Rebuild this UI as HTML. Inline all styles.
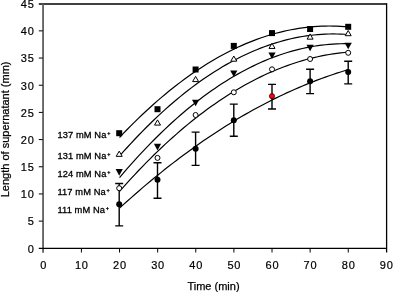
<!DOCTYPE html>
<html><head><meta charset="utf-8"><style>
html,body{margin:0;padding:0;background:#fff;width:393px;height:292px;overflow:hidden}
svg{display:block}
text{font-family:"Liberation Sans",Arial,sans-serif;fill:#000}
</style></head><body>
<svg width="393" height="292" viewBox="0 0 393 292">

<g stroke="#000" stroke-width="1" fill="none">
<path d="M38.8,3.9 H386.6" stroke-width="1.5"/>
<path d="M386.6,3.2 V252.5" stroke-width="1.3"/>
<path d="M43.05,3.2 V252.8" stroke="#555" stroke-width="1.7"/>
<path d="M38.8,248.35 H386.6" stroke-width="1.3"/>
<path d="M38.8,221.12 H42.8"/>
<path d="M38.8,193.94 H42.8"/>
<path d="M38.8,166.76 H42.8"/>
<path d="M38.8,139.58 H42.8"/>
<path d="M38.8,112.40 H42.8"/>
<path d="M38.8,85.22 H42.8"/>
<path d="M38.8,58.04 H42.8"/>
<path d="M38.8,30.86 H42.8"/>
<path d="M81.42,248.3 V252.5"/>
<path d="M119.54,248.3 V252.5"/>
<path d="M157.66,248.3 V252.5"/>
<path d="M195.78,248.3 V252.5"/>
<path d="M233.90,248.3 V252.5"/>
<path d="M272.02,248.3 V252.5"/>
<path d="M310.14,248.3 V252.5"/>
<path d="M348.26,248.3 V252.5"/>
</g>
<g font-size="11" text-anchor="end" letter-spacing="0.8" stroke="#000" stroke-width="0.2">
<text x="34.6" y="252.60">0</text>
<text x="34.6" y="225.42">5</text>
<text x="34.6" y="198.24">10</text>
<text x="34.6" y="171.06">15</text>
<text x="34.6" y="143.88">20</text>
<text x="34.6" y="116.70">25</text>
<text x="34.6" y="89.52">30</text>
<text x="34.6" y="62.34">35</text>
<text x="34.6" y="35.16">40</text>
<text x="34.6" y="7.98">45</text>
</g>
<g font-size="11" text-anchor="middle" letter-spacing="0.8" stroke="#000" stroke-width="0.2">
<text x="43.70" y="268.6">0</text>
<text x="81.82" y="268.6">10</text>
<text x="119.94" y="268.6">20</text>
<text x="158.06" y="268.6">30</text>
<text x="196.18" y="268.6">40</text>
<text x="234.30" y="268.6">50</text>
<text x="272.42" y="268.6">60</text>
<text x="310.54" y="268.6">70</text>
<text x="348.66" y="268.6">80</text>
<text x="386.78" y="268.6">90</text>
</g>
<text x="213.5" y="289.7" font-size="11" text-anchor="middle" stroke="#000" stroke-width="0.25">Time (min)</text>
<text transform="translate(8.9,129.4) rotate(-90)" font-size="11" text-anchor="middle" stroke="#000" stroke-width="0.25">Length of supernatant (mm)</text>
<g stroke="#000" stroke-width="1.2" fill="none">
<path d="M119.54,137.47 L123.35,133.46 L127.16,129.52 L130.98,125.66 L134.79,121.87 L138.60,118.15 L142.41,114.51 L146.22,110.94 L150.04,107.44 L153.85,104.02 L157.66,100.67 L161.47,97.40 L165.28,94.19 L169.10,91.06 L172.91,88.01 L176.72,85.03 L180.53,82.12 L184.34,79.28 L188.16,76.52 L191.97,73.84 L195.78,71.22 L199.59,68.68 L203.40,66.21 L207.22,63.82 L211.03,61.50 L214.84,59.25 L218.65,57.08 L222.46,54.98 L226.28,52.95 L230.09,51.00 L233.90,49.12 L237.71,47.31 L241.52,45.58 L245.34,43.92 L249.15,42.34 L252.96,40.82 L256.77,39.38 L260.58,38.02 L264.40,36.73 L268.21,35.51 L272.02,34.36 L275.83,33.29 L279.64,32.30 L283.46,31.37 L287.27,30.52 L291.08,29.74 L294.89,29.04 L298.70,28.41 L302.52,27.85 L306.33,27.37 L310.14,26.96 L313.95,26.62 L317.76,26.36 L321.58,26.17 L325.39,26.05 L329.20,26.01 L333.01,26.04 L336.82,26.14 L340.64,26.32 L344.45,26.57 L348.26,26.90"/>
<path d="M119.54,156.03 L123.35,151.72 L127.16,147.49 L130.98,143.34 L134.79,139.26 L138.60,135.26 L142.41,131.34 L146.22,127.49 L150.04,123.72 L153.85,120.03 L157.66,116.42 L161.47,112.89 L165.28,109.43 L169.10,106.05 L172.91,102.74 L176.72,99.52 L180.53,96.37 L184.34,93.30 L188.16,90.31 L191.97,87.39 L195.78,84.55 L199.59,81.79 L203.40,79.11 L207.22,76.50 L211.03,73.98 L214.84,71.52 L218.65,69.15 L222.46,66.85 L226.28,64.64 L230.09,62.49 L233.90,60.43 L237.71,58.44 L241.52,56.54 L245.34,54.70 L249.15,52.95 L252.96,51.27 L256.77,49.68 L260.58,48.15 L264.40,46.71 L268.21,45.34 L272.02,44.05 L275.83,42.84 L279.64,41.71 L283.46,40.65 L287.27,39.67 L291.08,38.77 L294.89,37.94 L298.70,37.20 L302.52,36.53 L306.33,35.94 L310.14,35.42 L313.95,34.98 L317.76,34.62 L321.58,34.34 L325.39,34.14 L329.20,34.01 L333.01,33.96 L336.82,33.99 L340.64,34.09 L344.45,34.27 L348.26,34.53"/>
<path d="M119.54,177.63 L123.35,173.14 L127.16,168.73 L130.98,164.40 L134.79,160.14 L138.60,155.96 L142.41,151.86 L146.22,147.83 L150.04,143.88 L153.85,140.01 L157.66,136.21 L161.47,132.49 L165.28,128.84 L169.10,125.28 L172.91,121.78 L176.72,118.37 L180.53,115.03 L184.34,111.77 L188.16,108.58 L191.97,105.47 L195.78,102.44 L199.59,99.48 L203.40,96.60 L207.22,93.79 L211.03,91.06 L214.84,88.41 L218.65,85.84 L222.46,83.34 L226.28,80.92 L230.09,78.57 L233.90,76.30 L237.71,74.11 L241.52,71.99 L245.34,69.95 L249.15,67.98 L252.96,66.10 L256.77,64.29 L260.58,62.55 L264.40,60.89 L268.21,59.31 L272.02,57.80 L275.83,56.37 L279.64,55.02 L283.46,53.74 L287.27,52.54 L291.08,51.42 L294.89,50.37 L298.70,49.40 L302.52,48.51 L306.33,47.69 L310.14,46.95 L313.95,46.28 L317.76,45.69 L321.58,45.18 L325.39,44.74 L329.20,44.38 L333.01,44.10 L336.82,43.89 L340.64,43.76 L344.45,43.71 L348.26,43.73"/>
<path d="M119.54,191.38 L123.35,187.07 L127.16,182.83 L130.98,178.66 L134.79,174.55 L138.60,170.52 L142.41,166.54 L146.22,162.64 L150.04,158.81 L153.85,155.04 L157.66,151.34 L161.47,147.70 L165.28,144.14 L169.10,140.64 L172.91,137.20 L176.72,133.84 L180.53,130.54 L184.34,127.31 L188.16,124.15 L191.97,121.06 L195.78,118.03 L199.59,115.07 L203.40,112.18 L207.22,109.35 L211.03,106.59 L214.84,103.90 L218.65,101.28 L222.46,98.72 L226.28,96.23 L230.09,93.81 L233.90,91.46 L237.71,89.17 L241.52,86.95 L245.34,84.80 L249.15,82.71 L252.96,80.70 L256.77,78.75 L260.58,76.86 L264.40,75.05 L268.21,73.30 L272.02,71.62 L275.83,70.01 L279.64,68.46 L283.46,66.98 L287.27,65.57 L291.08,64.23 L294.89,62.95 L298.70,61.74 L302.52,60.60 L306.33,59.53 L310.14,58.52 L313.95,57.58 L317.76,56.71 L321.58,55.90 L325.39,55.17 L329.20,54.50 L333.01,53.89 L336.82,53.36 L340.64,52.89 L344.45,52.49 L348.26,52.16"/>
<path d="M119.54,208.15 L123.35,204.68 L127.16,201.24 L130.98,197.85 L134.79,194.49 L138.60,191.18 L142.41,187.90 L146.22,184.66 L150.04,181.46 L153.85,178.30 L157.66,175.19 L161.47,172.11 L165.28,169.07 L169.10,166.07 L172.91,163.11 L176.72,160.18 L180.53,157.30 L184.34,154.46 L188.16,151.66 L191.97,148.90 L195.78,146.17 L199.59,143.49 L203.40,140.84 L207.22,138.24 L211.03,135.67 L214.84,133.15 L218.65,130.66 L222.46,128.21 L226.28,125.81 L230.09,123.44 L233.90,121.11 L237.71,118.82 L241.52,116.57 L245.34,114.36 L249.15,112.19 L252.96,110.06 L256.77,107.97 L260.58,105.92 L264.40,103.91 L268.21,101.93 L272.02,100.00 L275.83,98.11 L279.64,96.25 L283.46,94.44 L287.27,92.66 L291.08,90.93 L294.89,89.23 L298.70,87.58 L302.52,85.96 L306.33,84.38 L310.14,82.84 L313.95,81.34 L317.76,79.89 L321.58,78.47 L325.39,77.09 L329.20,75.75 L333.01,74.45 L336.82,73.18 L340.64,71.96 L344.45,70.78 L348.26,69.64"/>
</g>
<g stroke="#000" stroke-width="1.4" fill="none">
<path d="M119.20,183.50 V225.85 M115.20,183.50 H123.20 M115.20,225.85 H123.20"/>
<path d="M157.50,162.75 V198.30 M153.50,162.75 H161.50 M153.50,198.30 H161.50"/>
<path d="M195.60,132.10 V165.40 M191.60,132.10 H199.60 M191.60,165.40 H199.60"/>
<path d="M233.80,104.10 V136.30 M229.80,104.10 H237.80 M229.80,136.30 H237.80"/>
<path d="M272.00,84.40 V109.00 M268.00,84.40 H276.00 M268.00,109.00 H276.00"/>
<path d="M310.10,69.30 V93.60 M306.10,69.30 H314.10 M306.10,93.60 H314.10"/>
<path d="M348.20,61.30 V83.90 M344.20,61.30 H352.20 M344.20,83.90 H352.20"/>
</g>
<rect x="116.20" y="130.20" width="6" height="6" fill="#000"/>
<rect x="154.50" y="106.20" width="6" height="6" fill="#000"/>
<rect x="192.60" y="66.50" width="6" height="6" fill="#000"/>
<rect x="230.80" y="42.90" width="6" height="6" fill="#000"/>
<rect x="269.00" y="30.10" width="6" height="6" fill="#000"/>
<rect x="307.10" y="26.00" width="6" height="6" fill="#000"/>
<rect x="345.20" y="23.80" width="6" height="6" fill="#000"/>
<path d="M119.20,151.15 L122.20,156.35 L116.20,156.35 Z" fill="#fff" stroke="#000" stroke-width="1"/>
<path d="M157.50,119.90 L160.50,125.10 L154.50,125.10 Z" fill="#fff" stroke="#000" stroke-width="1"/>
<path d="M195.60,76.40 L198.60,81.60 L192.60,81.60 Z" fill="#fff" stroke="#000" stroke-width="1"/>
<path d="M233.80,56.00 L236.80,61.20 L230.80,61.20 Z" fill="#fff" stroke="#000" stroke-width="1"/>
<path d="M272.00,43.25 L275.00,48.45 L269.00,48.45 Z" fill="#fff" stroke="#000" stroke-width="1"/>
<path d="M310.10,33.95 L313.10,39.15 L307.10,39.15 Z" fill="#fff" stroke="#000" stroke-width="1"/>
<path d="M348.20,30.50 L351.20,35.70 L345.20,35.70 Z" fill="#fff" stroke="#000" stroke-width="1"/>
<path d="M115.60,169.10 L122.80,169.10 L119.20,175.70 Z" fill="#000"/>
<path d="M153.90,143.85 L161.10,143.85 L157.50,150.45 Z" fill="#000"/>
<path d="M192.00,99.70 L199.20,99.70 L195.60,106.30 Z" fill="#000"/>
<path d="M230.20,70.40 L237.40,70.40 L233.80,77.00 Z" fill="#000"/>
<path d="M268.40,52.40 L275.60,52.40 L272.00,59.00 Z" fill="#000"/>
<path d="M306.50,44.75 L313.70,44.75 L310.10,51.35 Z" fill="#000"/>
<path d="M344.60,42.65 L351.80,42.65 L348.20,49.25 Z" fill="#000"/>
<circle cx="119.20" cy="188.20" r="2.5" fill="#fff" stroke="#000" stroke-width="1"/>
<circle cx="157.50" cy="157.90" r="2.5" fill="#fff" stroke="#000" stroke-width="1"/>
<circle cx="195.60" cy="115.00" r="2.5" fill="#fff" stroke="#000" stroke-width="1"/>
<circle cx="233.80" cy="92.30" r="2.5" fill="#fff" stroke="#000" stroke-width="1"/>
<circle cx="272.00" cy="69.30" r="2.5" fill="#fff" stroke="#000" stroke-width="1"/>
<circle cx="310.10" cy="59.00" r="2.5" fill="#fff" stroke="#000" stroke-width="1"/>
<circle cx="348.20" cy="52.80" r="2.5" fill="#fff" stroke="#000" stroke-width="1"/>
<circle cx="119.20" cy="204.35" r="3" fill="#000"/>
<circle cx="157.50" cy="179.65" r="3" fill="#000"/>
<circle cx="195.60" cy="148.70" r="3" fill="#000"/>
<circle cx="233.80" cy="120.30" r="3" fill="#000"/>
<circle cx="272.00" cy="96.15" r="2.6" fill="#f00" stroke="#200" stroke-width="0.7"/>
<circle cx="310.10" cy="81.25" r="3" fill="#000"/>
<circle cx="348.20" cy="72.00" r="3" fill="#000"/>
<g font-size="9.3" letter-spacing="0.1" stroke="#000" stroke-width="0.3">
<text x="57.5" y="137.8">137 mM Na<tspan font-size="5.5" dx="0.7" dy="-2.8">+</tspan></text>
<text x="57.5" y="159.0">131 mM Na<tspan font-size="5.5" dx="0.7" dy="-2.8">+</tspan></text>
<text x="57.5" y="176.8">124 mM Na<tspan font-size="5.5" dx="0.7" dy="-2.8">+</tspan></text>
<text x="57.5" y="195.1">117 mM Na<tspan font-size="5.5" dx="0.7" dy="-2.8">+</tspan></text>
<text x="57.5" y="213.2">111 mM Na<tspan font-size="5.5" dx="0.7" dy="-2.8">+</tspan></text>
</g>
</svg>
</body></html>
